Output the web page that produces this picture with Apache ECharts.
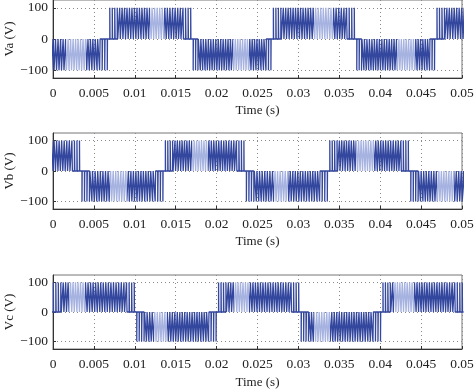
<!DOCTYPE html>
<html><head><meta charset="utf-8">
<script src="https://cdn.jsdelivr.net/npm/echarts@6/dist/echarts.min.js"></script>
<style>html,body{margin:0;padding:0;background:#fff}#c{width:474px;height:392px}</style>
</head><body><div id="c"></div>
<script>
// ---- axis ticks ----
const timeTicks = [0, 0.005, 0.01, 0.015, 0.02, 0.025, 0.03, 0.035, 0.04, 0.045, 0.05];
const timeTickLabels = ['0', '0.005', '0.01', '0.015', '0.02', '0.025', '0.03', '0.035', '0.04', '0.045', '0.05'];
const voltTicks = [-100, 0, 100];
const voltTickLabels = ['\u2212100', '0', '100'];
const panelNames = ['Va (V)', 'Vb (V)', 'Vc (V)'];

// ---- PWM data ----
// half-cycle boundaries (s) and the level of each half-cycle (V)
const vaBounds = [-0.0033, 0.0068, 0.0170, 0.0268, 0.0370, 0.0468, 0.0570];
const vaLevels = [-100, 100, -100, 100, -100, 100];
const vbBounds = [-0.0066, 0.0034, 0.0136, 0.0235, 0.0337, 0.0436, 0.0536];
const vbLevels = [100, -100, 100, -100, 100, -100];
const vcBounds = [-0.0100, -0.0001, 0.0101, 0.0201, 0.0302, 0.0402, 0.0502];
const vcLevels = [-100, 100, -100, 100, -100, 100];
// pulse widths (fraction of switching period) across one half-cycle
const pulseDuty = [0.08, 0.12, 0.16, 0.2, 0.24, 0.3, 0.38, 0.45, 0.5, 0.55, 0.58, 0.6, 0.62, 0.64, 0.65, 0.66, 0.66,
                   0.66, 0.65, 0.64, 0.62, 0.6, 0.58, 0.55, 0.5, 0.45, 0.38, 0.3, 0.24, 0.2, 0.16, 0.12, 0.08];
// time spans where the pulse train appears light (s)
const vaLight = [[0.0016, 0.0040], [0.0119, 0.0136], [0.0220, 0.0240], [0.0319, 0.0342], [0.0421, 0.0442]];
const vbLight = [[0.0070, 0.0090], [0.0170, 0.0189], [0.0270, 0.0287], [0.0370, 0.0392], [0.0470, 0.0490]];
const vcLight = [[0.0019, 0.0039], [0.0123, 0.0139], [0.0221, 0.0240], [0.0319, 0.0339], [0.0417, 0.0441]];

const DARK = '#34479e', LIGHT = '#a6b2e0';

function buildWave(bounds, levels) {
  const pts = [];
  for (let h = 0; h < levels.length; h++) {
    const s = bounds[h], e = bounds[h + 1], v = levels[h];
    const T = (e - s) / pulseDuty.length;
    pts.push([s, 0]);
    pulseDuty.forEach((d, k) => {
      const c = s + (k + 0.5) * T;
      pts.push([c - d * T / 2, v]);
      pts.push([c + d * T / 2, 0]);
    });
  }
  pts.push([bounds[bounds.length - 1], 0]);
  return pts;
}
function buildPieces(light) {
  const p = [];
  let prev = -1;
  light.forEach(([a, b]) => {
    p.push({ gte: prev, lt: a, color: DARK });
    p.push({ gte: a, lt: b, color: LIGHT });
    prev = b;
  });
  p.push({ gte: prev, lte: 1, color: DARK });
  return p;
}

const waves = [buildWave(vaBounds, vaLevels), buildWave(vbBounds, vbLevels), buildWave(vcBounds, vcLevels)];
const lights = [vaLight, vbLight, vcLight];

const FONT = 'Liberation Serif';
const grids = [
  { left: 53, right: 12, top: 0, height: 78 },
  { left: 53, right: 12, top: 133, height: 76 },
  { left: 53, right: 12, top: 275, height: 74 }
];
const nameGaps = [26, 26, 27];

const option = {
  animation: false,
  backgroundColor: '#fff',
  grid: grids.map(g => Object.assign({ show: true, borderColor: '#777', borderWidth: 1, backgroundColor: 'transparent',
    containLabel: false, outerBoundsMode: 'none' }, g)),
  xAxis: grids.map((g, i) => ({
    type: 'value', gridIndex: i, min: 0, max: 0.05, interval: 0.005,
    name: 'Time (s)', nameLocation: 'middle', nameGap: nameGaps[i], nameMoveOverlap: false,
    nameTextStyle: { fontFamily: FONT, fontSize: 13, color: '#222' },
    axisLine: { show: true, onZero: false, lineStyle: { color: '#333', width: 1 } },
    axisTick: { show: true, inside: true, length: 3, lineStyle: { color: '#333' } },
    axisLabel: {
      margin: 8, fontFamily: FONT, fontSize: 13.5, color: '#222', hideOverlap: false,
      formatter: v => { const k = timeTicks.findIndex(t => Math.abs(t - v) < 1e-9); return k >= 0 ? timeTickLabels[k] : ''; }
    },
    splitLine: { show: true, lineStyle: { color: '#8a8a8a', width: 1, type: [1, 3] } }
  })),
  yAxis: grids.map((g, i) => ({
    type: 'value', gridIndex: i, min: -125, max: 125,
    name: panelNames[i], nameLocation: 'middle', nameGap: 37, nameRotate: 90, nameMoveOverlap: false,
    nameTextStyle: { fontFamily: FONT, fontSize: 13, color: '#222' },
    axisLine: { show: true, onZero: false, lineStyle: { color: '#333', width: 1 } },
    axisTick: { show: true, inside: true, length: 3, customValues: voltTicks, lineStyle: { color: '#333' } },
    axisLabel: {
      margin: 5, fontFamily: FONT, fontSize: 13.5, color: '#222', customValues: voltTicks,
      formatter: v => { const k = voltTicks.indexOf(v); return k >= 0 ? voltTickLabels[k] : ''; }
    },
    splitLine: { show: true, lineStyle: { color: '#8a8a8a', width: 1, type: [1, 3] } }
  })),
  visualMap: lights.map((l, i) => ({
    show: false, type: 'piecewise', seriesIndex: i, dimension: 0, pieces: buildPieces(l)
  })),
  series: waves.map((w, i) => ({
    type: 'line', xAxisIndex: i, yAxisIndex: i, data: w, step: 'end',
    showSymbol: false, symbol: 'none', clip: true,
    lineStyle: { width: 1.3 }
  }))
};
echarts.init(document.getElementById('c'), null, { renderer: 'canvas' }).setOption(option);
</script>
</body></html>
